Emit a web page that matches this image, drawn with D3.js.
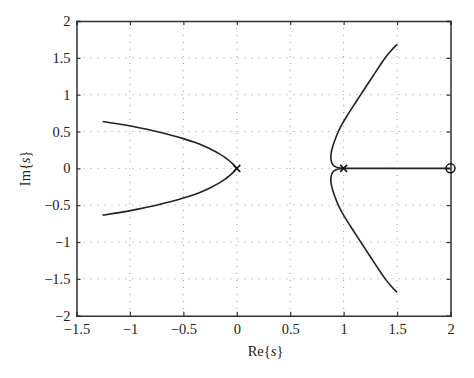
<!DOCTYPE html>
<html>
<head>
<meta charset="utf-8">
<script src="https://cdnjs.cloudflare.com/ajax/libs/d3/7.8.5/d3.min.js"></script>
<style>
  body { margin: 0; background: #fff; }
  text { font-family: "Times New Roman", "Liberation Serif", serif; fill: #222; }
</style>
</head>
<body>
<div id="chart"></div>
<script>
// root locus branches (upper halves, lower halves are mirrored)
var leftRe  = [0, -0.03, -0.066, -0.11, -0.165, -0.228, -0.30, -0.385, -0.49, -0.61, -0.75, -0.91, -1.09, -1.255];
var leftIm  = [0, 0.05, 0.10, 0.15, 0.20, 0.25, 0.30, 0.35, 0.40, 0.45, 0.50, 0.55, 0.60, 0.635];
var rightRe = [1, 0.95, 0.91, 0.888, 0.879, 0.881, 0.892, 0.905, 0.925, 0.949, 0.985, 1.026, 1.07, 1.115, 1.16, 1.205, 1.25, 1.295, 1.341, 1.388, 1.443, 1.5];
var rightIm = [0, 0.006, 0.028, 0.07, 0.13, 0.2, 0.27, 0.33, 0.41, 0.5, 0.6, 0.7, 0.8, 0.9, 1.0, 1.1, 1.2, 1.3, 1.4, 1.5, 1.6, 1.683];
var realRe  = [1, 2];
var polesRe = [0, 1];
var zerosRe = [2];
var xTicks = [-1.5, -1, -0.5, 0, 0.5, 1, 1.5, 2];
var yTicks = [-2, -1.5, -1, -0.5, 0, 0.5, 1, 1.5, 2];

var width = 474, height = 378;
var margin = {left: 76.5, top: 21, right: 23.5, bottom: 62.3};
var w = width - margin.left - margin.right;
var h = height - margin.top - margin.bottom;

var x = d3.scaleLinear().domain([-1.5, 2]).range([0, w]);
var y = d3.scaleLinear().domain([-2, 2]).range([h, 0]);

var svg = d3.select("#chart").append("svg")
    .attr("width", width).attr("height", height);
var g = svg.append("g").attr("transform", "translate(" + margin.left + "," + margin.top + ")");

// grid
g.selectAll(".gx").data(xTicks.slice(1, -1)).enter().append("line")
    .attr("x1", function(d) { return x(d); }).attr("x2", function(d) { return x(d); })
    .attr("y1", 0).attr("y2", h)
    .attr("stroke", "#999").attr("stroke-width", 1).attr("stroke-dasharray", "1,6");
g.selectAll(".gy").data(yTicks.slice(1, -1)).enter().append("line")
    .attr("y1", function(d) { return y(d); }).attr("y2", function(d) { return y(d); })
    .attr("x1", 0).attr("x2", w)
    .attr("stroke", "#999").attr("stroke-width", 1).attr("stroke-dasharray", "1,6");

// axes
var xAxis = g.append("g").attr("transform", "translate(0," + h + ")")
    .call(d3.axisBottom(x).tickValues(xTicks).tickSize(-4).tickPadding(8));
var xTop = g.append("g")
    .call(d3.axisTop(x).tickValues(xTicks).tickSize(-4).tickFormat(""));
var yAxis = g.append("g")
    .call(d3.axisLeft(y).tickValues(yTicks).tickSize(-4).tickPadding(6));
var yRight = g.append("g").attr("transform", "translate(" + w + ",0)")
    .call(d3.axisRight(y).tickValues(yTicks).tickSize(-4).tickFormat(""));

[xAxis, xTop, yAxis, yRight].forEach(function(a) {
  a.attr("font-family", null);
  a.select(".domain").attr("stroke", "#333").attr("stroke-width", 1.5);
  a.selectAll(".tick line").attr("stroke", "#333").attr("stroke-width", 1.2);
  a.selectAll("text").style("font-size", "14.5px").attr("fill", "#222")
    .text(function(d) { return d < 0 ? "\u2212" + Math.abs(d) : String(d); });
});
xTop.selectAll("text").remove();
yRight.selectAll("text").remove();

// locus
var line = d3.line().x(function(d) { return x(d[0]); }).y(function(d) { return y(d[1]); })
    .curve(d3.curveBasis);
function branch(re, im, sign) {
  return re.map(function(v, i) { return [v, sign * im[i]]; });
}
var paths = [branch(leftRe, leftIm, 1), branch(leftRe, leftIm, -1),
             branch(rightRe, rightIm, 1), branch(rightRe, rightIm, -1),
             realRe.map(function(v) { return [v, 0]; })];
g.selectAll(".locus").data(paths).enter().append("path")
    .attr("d", line).attr("fill", "none").attr("stroke", "#222").attr("stroke-width", 1.6);

// poles and zeros
g.selectAll(".pole").data(polesRe).enter().append("path")
    .attr("d", function(d) {
      var cx = x(d), cy = y(0), s = 3.5;
      return "M" + (cx - s) + "," + (cy - s) + "L" + (cx + s) + "," + (cy + s) +
             "M" + (cx - s) + "," + (cy + s) + "L" + (cx + s) + "," + (cy - s);
    })
    .attr("stroke", "#111").attr("stroke-width", 1.5);
g.selectAll(".zero").data(zerosRe).enter().append("circle")
    .attr("cx", function(d) { return x(d); }).attr("cy", y(0)).attr("r", 4.5)
    .attr("fill", "none").attr("stroke", "#111").attr("stroke-width", 1.5);

// labels
var xl = svg.append("text").attr("x", margin.left + w / 2 + 2).attr("y", 356)
    .attr("text-anchor", "middle").style("font-size", "14.5px");
xl.append("tspan").text("Re{");
xl.append("tspan").attr("font-style", "italic").text("s");
xl.append("tspan").text("}");

var yl = svg.append("text").attr("transform", "translate(30," + (margin.top + h / 2) + ") rotate(-90)")
    .attr("text-anchor", "middle").style("font-size", "14.5px");
yl.append("tspan").text("Im{");
yl.append("tspan").attr("font-style", "italic").text("s");
yl.append("tspan").text("}");
</script>
</body>
</html>
